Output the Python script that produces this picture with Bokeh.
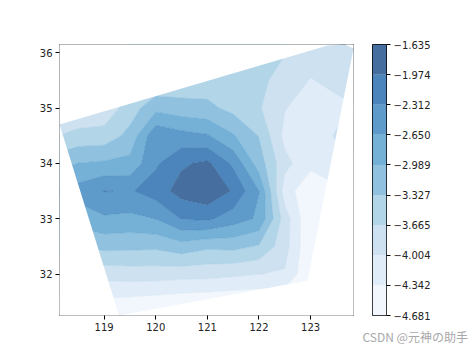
import numpy as np
from bokeh.plotting import figure
from bokeh.models import Range1d, FixedTicker, Title
from bokeh.layouts import row
from bokeh.embed import file_html
from bokeh.resources import INLINE

# ---------------- data ----------------
lon = [118.0, 118.5, 119.0, 119.5, 120.0, 120.5, 121.0, 121.5, 122.0, 122.5, 123.0, 123.5, 124.0]
lat = [31.0, 31.5, 32.0, 32.5, 33.0, 33.5, 34.0, 34.5, 35.0, 35.5, 36.0, 36.5]

# gridded values, one list per latitude (west -> east)
z_36_5 = [-3.801, -3.767, -3.699, -3.632, -3.564, -3.530, -3.496, -3.496, -3.530, -3.632, -3.801, -3.835, -3.869]
z_36_0 = [-3.835, -3.801, -3.733, -3.660, -3.598, -3.564, -3.530, -3.530, -3.564, -3.649, -3.835, -3.835, -3.869]
z_35_5 = [-3.869, -3.835, -3.767, -3.699, -3.632, -3.564, -3.513, -3.496, -3.581, -3.801, -4.021, -3.902, -3.869]
z_35_0 = [-4.072, -3.997, -3.902, -3.496, -3.090, -3.192, -3.242, -3.429, -3.632, -3.987, -4.173, -4.106, -3.997]
z_34_5 = [-3.699, -3.547, -3.530, -3.225, -2.379, -2.532, -2.616, -2.955, -3.344, -4.106, -4.207, -3.970, -3.902]
z_34_0 = [-3.158, -2.982, -2.938, -2.887, -2.362, -2.024, -1.905, -2.379, -3.158, -3.902, -4.241, -4.139, -3.997]
z_33_5 = [-2.643, -2.515, -2.295, -2.345, -2.143, -1.838, -1.702, -2.007, -2.643, -4.173, -4.613, -4.410, -4.336]
z_33_0 = [-2.982, -2.819, -2.701, -2.735, -2.643, -2.295, -2.244, -2.481, -2.701, -3.835, -4.664, -4.512, -4.410]
z_32_5 = [-3.496, -3.320, -3.225, -3.242, -3.259, -3.124, -3.259, -3.225, -3.361, -3.869, -4.664, -4.579, -4.512]
z_32_0 = [-3.936, -3.902, -3.869, -3.835, -3.835, -3.869, -3.886, -3.936, -3.997, -4.038, -4.664, -4.647, -4.613]
z_31_5 = [-4.444, -4.410, -4.410, -4.444, -4.495, -4.546, -4.579, -4.613, -4.647, -4.664, -4.664, -4.664, -4.664]
z_31_0 = [-4.664, -4.664, -4.664, -4.664, -4.664, -4.664, -4.664, -4.664, -4.664, -4.664, -4.664, -4.664, -4.664]

levels = [-4.681, -4.342, -4.004, -3.665, -3.327, -2.989, -2.650, -2.312, -1.974, -1.635]
level_labels = ["\u22124.681", "\u22124.342", "\u22124.004", "\u22123.665", "\u22123.327",
                "\u22122.989", "\u22122.650", "\u22122.312", "\u22121.974", "\u22121.635"]
x_ticks = [119, 120, 121, 122, 123]
y_ticks = [32, 33, 34, 35, 36]

# outline of the station area
hull_lon = [118.137, 123.33, 123.66, 123.83, 122.94, 119.29]
hull_lat = [34.70, 36.13, 36.148, 36.076, 31.877, 31.25]

watermark = "CSDN @元神の助手"

# ---------------- styles ----------------
band_colors = ["#f1f7fc", "#e0ecf7", "#cee1f1", "#b2d5e8", "#90c2e0",
               "#75b0d6", "#5e9aca", "#4c85bb", "#466fa0"]
line_colors = ["#f1f7fc", "#d6e6f4", "#bdd7ec", "#98c7e0", "#6baed6",
               "#4795c8", "#2878b9", "#105ca4", "#083f81", "#083f81"]
FONT = "DejaVu Sans"
TXT = "#222222"

z = np.array([z_31_0, z_31_5, z_32_0, z_32_5, z_33_0, z_33_5,
              z_34_0, z_34_5, z_35_0, z_35_5, z_36_0, z_36_5])

p = figure(width=359, height=355,
           x_range=Range1d(min(hull_lon), max(hull_lon)),
           y_range=Range1d(min(hull_lat), max(hull_lat)),
           output_backend="svg", toolbar_location=None,
           min_border_left=59, min_border_right=6,
           min_border_top=44, min_border_bottom=40)
p.background_fill_color = "white"
p.border_fill_color = "white"

p.contour(lon, lat, z, levels, fill_color=band_colors,
          line_color=line_colors, line_alpha=0.45, line_width=0.6)

pad = 3.0
outer_x = [min(lon) - pad, max(lon) + pad, max(lon) + pad, min(lon) - pad]
outer_y = [min(lat) - pad, min(lat) - pad, max(lat) + pad, max(lat) + pad]
p.multi_polygons(xs=[[[outer_x, hull_lon]]], ys=[[[outer_y, hull_lat]]],
                 fill_color="white", line_color=None)

p.xaxis.ticker = FixedTicker(ticks=x_ticks)
p.yaxis.ticker = FixedTicker(ticks=y_ticks)
for ax in (p.xaxis[0], p.yaxis[0]):
    ax.axis_line_color = None
    ax.major_tick_in = 0
    ax.major_tick_out = 4
    ax.major_tick_line_color = "black"
    ax.minor_tick_line_color = None
    ax.major_label_text_font = FONT
    ax.major_label_text_font_size = "10px"
    ax.major_label_text_color = TXT
    ax.major_label_standoff = 3
p.grid.visible = False
p.outline_line_color = "black"
p.outline_line_width = 1
p.outline_line_alpha = 1

cb = figure(width=115, height=355,
            x_range=Range1d(0, 1), y_range=Range1d(levels[0], levels[-1]),
            output_backend="svg", toolbar_location=None,
            x_axis_location=None, y_axis_location="right",
            min_border_left=13, min_border_right=88,
            min_border_top=43, min_border_bottom=39)
cb.background_fill_color = "white"
cb.border_fill_color = "white"
cb.quad(left=0, right=1, bottom=levels[:-1], top=levels[1:],
        fill_color=band_colors, line_color=None)
cb.grid.visible = False
ya = cb.yaxis[0]
ya.ticker = FixedTicker(ticks=levels)
ya.major_label_overrides = {lv: lab for lv, lab in zip(levels, level_labels)}
ya.axis_line_color = None
ya.major_tick_in = 0
ya.major_tick_out = 4
ya.major_tick_line_color = "black"
ya.minor_tick_line_color = None
ya.major_label_text_font = FONT
ya.major_label_text_font_size = "10px"
ya.major_label_text_color = TXT
ya.major_label_standoff = 3
cb.outline_line_color = "black"
cb.outline_line_width = 1
cb.outline_line_alpha = 1

cb.add_layout(Title(text=watermark, align="left", offset=-10, standoff=21,
                    text_font="Noto Sans CJK SC", text_font_size="12px",
                    text_font_style="normal", text_color="#a8a8a8"), "below")

layout = row(p, cb)
open("out.html", "w").write(file_html(layout, INLINE))
